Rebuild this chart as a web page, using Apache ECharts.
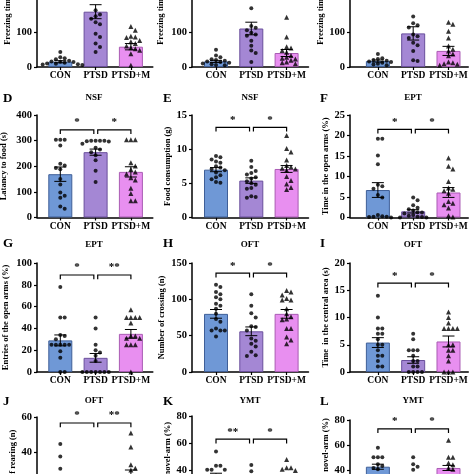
<!DOCTYPE html>
<html><head><meta charset="utf-8">
<script src="https://cdn.jsdelivr.net/npm/echarts@6/dist/echarts.min.js"></script>
<style>html,body{margin:0;padding:0;background:#fff}#c{width:474px;height:474px}</style>
</head><body><div id="c"></div>
<script>
const categories = ['CON', 'PTSD', 'PTSD+M'];

// Panel A-C: Freezing time (s)
const A_mean = [15, 158, 58], A_sem = [3, 20, 9];
const A_con = [43, 28, 25, 22, 18, 16, 15, 14, 12, 10, 9, 8, 7, 6];
const A_ptsd = [162, 150, 145, 138, 128, 122, 95, 86, 67, 57, 43];
const A_ptsdm = [116, 105, 88, 86, 84, 76, 72, 67, 60, 55, 52, 48, 38, 5];

const B_mean = [16, 110, 40], B_sem = [3, 18, 10];
const B_con = [49, 33, 28, 22, 20, 18, 16, 14, 12, 10, 8, 6, 5];
const B_ptsd = [168, 117, 112, 105, 98, 93, 89, 75, 61, 47, 40, 14];
const B_ptsdm = [142, 86, 58, 54, 47, 42, 33, 28, 25, 23, 19, 14, 12, 9];

const C_mean = [17, 96, 46], C_sem = [3, 19, 13];
const C_con = [37, 25, 23, 20, 18, 16, 14, 12, 9, 7, 5];
const C_ptsd = [144, 125, 119, 113, 93, 88, 83, 69, 62, 46, 19, 17];
const C_ptsdm = [128, 122, 102, 83, 60, 51, 46, 37, 32, 14, 12, 9, 8, 5];

// D: NSF latency
const D_mean = [169, 255, 178], D_sem = [28, 12, 20];
const D_con = [303, 303, 303, 281, 210, 203, 193, 188, 150, 129, 98, 85, 77, 43, 34];
const D_ptsd = [300, 300, 300, 300, 298, 297, 288, 272, 265, 255, 243, 223, 182, 139];
const D_ptsdm = [303, 303, 303, 214, 201, 187, 178, 170, 155, 146, 114, 94, 65, 65];

// E: NSF food consumption
const E_mean = [7.0, 5.4, 7.1], E_sem = [0.3, 0.4, 0.5];
const E_con = [9.0, 8.8, 8.5, 8.2, 8.0, 7.5, 7.3, 7.1, 6.9, 6.6, 6.2, 5.9, 5.6, 5.2, 5.1];
const E_ptsd = [8.3, 7.4, 6.8, 6.5, 6.3, 5.9, 5.7, 5.3, 5.0, 4.8, 4.3, 4.2, 3.1, 3.0, 2.9];
const E_ptsdm = [12.0, 10.1, 9.6, 8.4, 7.6, 7.4, 7.2, 7.1, 6.9, 6.0, 5.4, 4.9, 4.4, 4.1];

// F: EPT time in open arms
const F_mean = [6.7, 1.5, 6.1], F_sem = [1.8, 0.4, 1.2];
const F_con = [19.2, 19.2, 15.1, 13.0, 8.0, 7.6, 7.0, 5.5, 4.9, 0.6, 0.3, 0.2, 0.2, 0.1, 0.0];
const F_ptsd = [4.9, 4.2, 3.0, 2.4, 2.0, 1.7, 1.3, 1.2, 1.0, 0.6, 0.4, 0.2, 0.1, 0.0, 0.0];
const F_ptsdm = [14.5, 12.5, 11.8, 8.8, 7.2, 6.9, 6.5, 5.9, 3.9, 3.5, 3.1, 2.3, 0.4, 0.1];

// G: EPT entries
const G_mean = [29, 13, 35], G_sem = [5, 4, 4];
const G_con = [78, 50, 50, 34, 33, 30, 25, 25, 25, 25, 25, 19, 13, 0, 0];
const G_ptsd = [50, 40, 25, 20, 18, 15, 10, 0, 0, 0, 0, 0, 0, 0];
const G_ptsdm = [57, 50, 50, 50, 50, 45, 33, 33, 31, 31, 25, 25, 25, 0];

// H: OFT crossing
const H_mean = [80, 56, 80], H_sem = [6, 6, 6];
const H_con = [120, 117, 110, 107, 103, 100, 94, 91, 87, 80, 73, 69, 60, 57, 57, 57, 49];
const H_ptsd = [107, 91, 81, 75, 63, 62, 57, 46, 43, 39, 35, 28, 23, 22];
const H_ptsdm = [112, 110, 106, 101, 99, 99, 87, 80, 76, 73, 72, 60, 60, 48, 44, 39];

// I: OFT central area
const I_mean = [5.4, 2.2, 5.6], I_sem = [0.9, 0.6, 1.0];
const I_con = [14, 10, 8, 8, 7, 7, 6, 5, 5, 4, 3, 3, 2, 1, 1];
const I_ptsd = [7, 6, 4, 4, 4, 3, 2, 2, 1, 1, 0, 0, 0, 0];
const I_ptsdm = [11, 10, 9, 8, 8, 8, 8, 5, 5, 4, 4, 3, 2, 0, 0, 0];

// J: OFT rearing
const J_mean = [18, 7, 25], J_sem = [4, 2, 5];
const J_con = [44.7, 37.7, 30.7];
const J_ptsd = [];
const J_ptsdm = [51, 43, 33, 31, 30];

// K: YMT time novel arm
const K_mean = [35, 25, 34], K_sem = [3, 3, 3];
const K_con = [54, 43.5, 43.5, 40.5, 40.5, 40.5];
const K_ptsd = [44, 39.5];
const K_ptsdm = [48, 42, 42, 41, 40];

// L: YMT entries novel arm
const L_mean = [43, 30, 42], L_sem = [2, 3, 2];
const L_con = [58, 50.5, 50.5, 50.5, 45, 43.5, 42, 41];
const L_ptsd = [50.5, 45, 43, 40.5];
const L_ptsdm = [64, 50.5, 50.5, 46, 44.5, 42, 41];

const panelLetters = ['A','B','C','D','E','F','G','H','I','J','K','L'];
const panelTitles = ['','','','NSF','NSF','EPT','EPT','OFT','OFT','OFT','YMT','YMT'];
const yNames = ['Freezing time (s)','Freezing time (s)','Freezing time (s)',
  'Latancy to food (s)','Food consumption (g)','Time in the open arms (%)',
  'Entries of the open arms (%)','Number of crossing (n)','Time  in the central area (s)',
  'Number of rearing (n)','Time in the novel-arm (%)','Entries of the novel-arm (%)'];
const yMax = [300,300,300,400,15,25,100,150,20,60,80,80];
const yInterval = [100,100,100,100,5,5,20,50,5,20,20,20];
const sigLabels = [null,null,null,['*','*'],['*','*'],['*','*'],['*','**'],['*','*'],['*','*'],['*','**'],['**','*'],['*','*']];
const bracketLevel = [null,null,null,342,13.2,21.5,89,136,16.3,56.6,63,73];

const means = [A_mean,B_mean,C_mean,D_mean,E_mean,F_mean,G_mean,H_mean,I_mean,J_mean,K_mean,L_mean];
const sems = [A_sem,B_sem,C_sem,D_sem,E_sem,F_sem,G_sem,H_sem,I_sem,J_sem,K_sem,L_sem];
const points = [[A_con,A_ptsd,A_ptsdm],[B_con,B_ptsd,B_ptsdm],[C_con,C_ptsd,C_ptsdm],
  [D_con,D_ptsd,D_ptsdm],[E_con,E_ptsd,E_ptsdm],[F_con,F_ptsd,F_ptsdm],
  [G_con,G_ptsd,G_ptsdm],[H_con,H_ptsd,H_ptsdm],[I_con,I_ptsd,I_ptsdm],
  [J_con,J_ptsd,J_ptsdm],[K_con,K_ptsd,K_ptsdm],[L_con,L_ptsd,L_ptsdm]];

// ---- layout (pixels) ----
const colLeft = [37, 192, 350];
const colMin = [-0.66, -0.68, -0.79];
const colMax = [2.62, 2.62, 2.56];
const pxPerCat = 35.3;
const panelTop = [-38,-38,-38, 115,115,115, 263,263,263, 417,416,420];
const panelH = [105,105,105, 102.5,102.5,102.5, 109,109,109, 106,109,101];
const nameGaps = [23,27,22, 29,20,19, 27,26,20, 14,19,15];
const letterX = [3, 163, 320];
const titleX = [94, 250, 413];
const rowY = [-20, 99, 244, 402];
const titleRowY = [-20, 98, 245, 401];

const fillColors = ['#6f98d6', '#a487d4', '#e88ff0'];
const borderColors = ['#3f5f98', '#6a4f9c', '#a95cb3'];
const FONT = '"Liberation Serif", "Times New Roman", serif';

function swarm(vals, cat, pxX, pxY) {
  const placed = [], out = [];
  const order = vals.map((v, i) => i).sort((a, b) => vals[b] - vals[a]);
  const step = 4.4;
  for (const i of order) {
    const v = vals[i], py = v * pxY;
    let chosen = 0;
    for (let k = 0; k < 15; k++) {
      const o = (k === 0 ? 0 : (k % 2 === 1 ? 1 : -1) * Math.ceil(k / 2)) * step;
      if (placed.every(p => Math.hypot(p[0] - o, p[1] - py) >= step)) { chosen = o; break; }
    }
    placed.push([chosen, py]);
    out.push([cat + chosen / pxX, v]);
  }
  return out;
}

const grids = [], xAxes = [], yAxes = [], series = [], graphics = [];
for (let p = 0; p < 12; p++) {
  const col = p % 3, row = Math.floor(p / 3);
  const w = (colMax[col] - colMin[col]) * pxPerCat;
  grids.push({ left: colLeft[col], top: panelTop[p], width: w, height: panelH[p], containLabel: false, outerBoundsMode: 'none' });
  xAxes.push({
    gridIndex: p, type: 'value', min: colMin[col], max: colMax[col],
    axisLine: { show: true, onZero: false, lineStyle: { color: '#000', width: 1.5 } },
    axisTick: { show: true, length: 3, customValues: [0, 1, 2], lineStyle: { color: '#000', width: 1.2 } },
    axisLabel: { customValues: [0, 1, 2], formatter: v => categories[Math.round(v)], color: '#000',
      fontFamily: FONT, fontWeight: 'bold', fontSize: 9.5, margin: 4 },
    splitLine: { show: false }
  });
  yAxes.push({
    gridIndex: p, type: 'value', min: 0, max: yMax[p], interval: yInterval[p],
    name: yNames[p], nameLocation: 'middle', nameGap: nameGaps[p],
    nameTextStyle: { color: '#000', fontFamily: FONT, fontWeight: 'bold', fontSize: 8.5 },
    axisLine: { show: true, onZero: false, lineStyle: { color: '#000', width: 1.5 } },
    axisTick: { show: true, length: 3, lineStyle: { color: '#000', width: 1.2 } },
    axisLabel: { color: '#000', fontFamily: FONT, fontWeight: 'bold', fontSize: 10.5, margin: 5 },
    splitLine: { show: false }
  });
  series.push({
    type: 'bar', xAxisIndex: p, yAxisIndex: p, barWidth: 24, z: 2,
    data: means[p].map((m, i) => ({ value: [i, m], itemStyle: { color: fillColors[i], borderColor: borderColors[i], borderWidth: 1 } }))
  });
  series.push({
    type: 'custom', xAxisIndex: p, yAxisIndex: p, z: 3, clip: false,
    data: means[p].map((m, i) => [i, m, sems[p][i]]),
    renderItem: (params, api) => {
      const x = api.value(0), m = api.value(1), s = api.value(2);
      const t = api.coord([x, m + s]), b = api.coord([x, Math.max(0, m - s)]);
      const hw = 6, st = { stroke: '#000', lineWidth: 1 };
      return { type: 'group', children: [
        { type: 'line', shape: { x1: t[0], y1: t[1], x2: b[0], y2: b[1] }, style: st },
        { type: 'line', shape: { x1: t[0] - hw, y1: t[1], x2: t[0] + hw, y2: t[1] }, style: st },
        { type: 'line', shape: { x1: b[0] - hw, y1: b[1], x2: b[0] + hw, y2: b[1] }, style: st }
      ] };
    }
  });
  const pxY = panelH[p] / yMax[p];
  for (let g = 0; g < 3; g++) {
    series.push({
      type: 'scatter', xAxisIndex: p, yAxisIndex: p, z: 5,
      symbol: g === 2 ? 'triangle' : 'circle', symbolSize: g === 2 ? 5 : 4,
      itemStyle: { color: '#000' },
      data: swarm(points[p][g], g, pxPerCat, pxY)
    });
  }
  if (sigLabels[p]) {
    const lvl = bracketLevel[p], drop = yMax[p] * 0.04;
    const labs = sigLabels[p];
    series.push({
      type: 'custom', xAxisIndex: p, yAxisIndex: p, z: 5, clip: false,
      data: [[0, 0.95, lvl, drop], [1.06, 2, lvl, drop]],
      renderItem: (params, api) => {
        const x1 = api.value(0), x2 = api.value(1), y = api.value(2), d = api.value(3);
        const a = api.coord([x1, y - d]), b = api.coord([x1, y]), c = api.coord([x2, y]), e = api.coord([x2, y - d]);
        return { type: 'group', children: [
          { type: 'polyline', shape: { points: [a, b, c, e] }, style: { stroke: '#000', lineWidth: 1.2, fill: null } },
          { type: 'text', x: (b[0] + c[0]) / 2, y: b[1] - 2,
            style: { text: labs[params.dataIndex], font: 'bold 11px ' + FONT, fill: '#000', align: 'center', verticalAlign: 'bottom' } }
        ] };
      }
    });
  }
  if (row > 0) {
    graphics.push({ type: 'text', x: letterX[col], y: rowY[row],
      style: { text: panelLetters[p], font: 'bold 13px ' + FONT, fill: '#000', textAlign: 'left', textVerticalAlign: 'middle' } });
    graphics.push({ type: 'text', x: titleX[col], y: titleRowY[row],
      style: { text: panelTitles[p], font: 'bold 9px ' + FONT, fill: '#000', textAlign: 'center', textVerticalAlign: 'middle' } });
  }
}

const chart = echarts.init(document.getElementById('c'), null, { renderer: 'canvas' });
chart.setOption({
  animation: false, backgroundColor: '#fff',
  grid: grids, xAxis: xAxes, yAxis: yAxes, series: series, graphic: graphics
});
</script></body></html>
